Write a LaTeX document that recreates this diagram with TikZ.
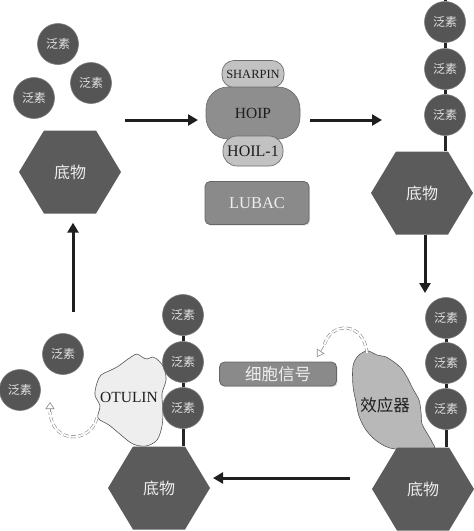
\documentclass[tikz,border=0pt]{standalone}
\usepackage{fontspec}
\setmainfont{Liberation Serif}
\newfontfamily\cjk{Noto Sans CJK SC}
\usetikzlibrary{arrows.meta,shapes.geometric,backgrounds,shadows}
\definecolor{ubfill}{HTML}{555555}
\definecolor{ubedge}{HTML}{7A7A7A}
\definecolor{ubtext}{HTML}{E4E4E4}
\definecolor{hexcol}{HTML}{5B5B5B}
\definecolor{hextext}{HTML}{EEEEEE}
\definecolor{chaincol}{HTML}{262626}
\definecolor{cloudlight}{HTML}{C2C2C2}
\definecolor{cloudedge}{HTML}{6E6E6E}
\definecolor{hoipcol}{HTML}{8E8E8E}
\definecolor{boxfill}{HTML}{8A8A8A}
\definecolor{boxedge}{HTML}{666666}
\definecolor{efffill}{HTML}{B8B8B8}
\definecolor{otufill}{HTML}{EEEEEE}
\definecolor{blobedge}{HTML}{555555}
\definecolor{dashcol}{HTML}{8C8C8C}
\definecolor{darktext}{HTML}{1E1E1E}
\tikzset{
  ub/.style={circle, fill=ubfill, draw=ubedge, line width=0.6pt, minimum size=41pt, inner sep=0pt,
    text=ubtext, font=\cjk\fontsize{12}{12}\selectfont},
  hexfill/.style={fill=hexcol},
  hexnode/.style={minimum width=102pt, minimum height=83pt, inner sep=0pt, text=hextext,
    font=\cjk\fontsize{16}{16}\selectfont},
  chainline/.style={draw=chaincol, line width=3pt},
  arr/.style={draw=black!88, line width=3pt, -{Triangle[length=10pt,width=11pt]}},
  cloudsmall/.style={rectangle, fill=cloudlight, draw=cloudedge,
    line width=0.7pt, inner sep=0pt, text=darktext},
  cloudbig/.style={rectangle, rounded corners=22pt, fill=hoipcol, draw=cloudedge,
    line width=0.7pt, inner sep=0pt, text=darktext},
  graybox/.style={rectangle, rounded corners=5pt, fill=boxfill, draw=boxedge, line width=0.8pt,
    inner sep=0pt, text=hextext, drop shadow={opacity=0.25, shadow xshift=1.2pt, shadow yshift=-1.2pt}},
  effblob/.style={fill=efffill, draw=blobedge, line width=0.6pt},
  otublob/.style={fill=otufill, draw=blobedge, line width=0.6pt},
  hollowdash/.style={draw=dashcol, line width=0.6pt, double=white, double distance=1.8pt,
    dash pattern=on 5pt off 2.5pt},
  hollowtip/.style={draw=dashcol, line width=0.6pt, -{Triangle[open, length=7pt, width=9pt, fill=white]}},
}
\newcommand\HexSub[3]{%
  \path[hexfill] (#2-51,#3) -- (#2-26,#3-41.5) -- (#2+26,#3-41.5) -- (#2+51,#3)
    -- (#2+26,#3+41.5) -- (#2-26,#3+41.5) -- cycle;
  \node[hexnode] (#1) at (#2,#3) {底物};}
\begin{document}
\begin{tikzpicture}[x=1pt,y=-1pt]
\useasboundingbox (0,0) rectangle (474,531);

% ---------- top left ----------
\node[ub] (u1) at (58,44) {泛素};
\node[ub] (u2) at (91,83) {泛素};
\node[ub] (u3) at (34,98) {泛素};
\HexSub{hTL}{70}{172}

\coordinate (a1s) at (125,120);
\coordinate (a1e) at (198,120);
\draw[arr] (a1s) -- (a1e);

% ---------- LUBAC ----------
\node[cloudsmall, rounded corners=12pt, minimum width=62pt, minimum height=27pt,
  font=\fontsize{12.5}{12.5}\selectfont] (sharpin) at (253,74) {SHARPIN};
\node[cloudbig, minimum width=94pt, minimum height=52pt,
  font=\fontsize{15.5}{15.5}\selectfont] (hoip) at (253,113) {HOIP};
\node[cloudsmall, rounded corners=14pt, minimum width=60pt, minimum height=30pt,
  font=\fontsize{16}{16}\selectfont] (hoil) at (253,151) {HOIL-1};
\node[graybox, minimum width=104pt, minimum height=43pt,
  font=\fontsize{16.5}{16.5}\selectfont] (lubac) at (257,203) {LUBAC};

\coordinate (a2s) at (310,120);
\coordinate (a2e) at (382,120);
\draw[arr] (a2s) -- (a2e);

% ---------- top right ----------
\coordinate (rtop) at (445,-5);
\node[ub] (r1) at (445,22) {泛素};
\node[ub] (r2) at (445,69) {泛素};
\node[ub] (r3) at (445,115) {泛素};
\HexSub{hTR}{422}{193}

\coordinate (a3e) at (425,293);
\draw[arr] ([xshift=3pt]hTR.south) -- (a3e);

% ---------- bottom right ----------
\draw[effblob] plot[smooth cycle, tension=0.55] coordinates {
  (353,366) (358,356) (366,351) (371,352) (377,355) (386,357) (394,362) (401,368)
  (407,377) (413,389) (419,400) (421,412) (422,424) (427,433) (432,442) (432,449)
  (395,449) (378,442) (366,430) (359,416) (356,402) (353,386) };
\node[text=darktext, font=\cjk\fontsize{16.5}{16.5}\selectfont] (eff) at (385,405) {效应器};
\node[ub] (b1) at (446,318) {泛素};
\node[ub] (b2) at (446,363) {泛素};
\node[ub] (b3) at (446,409) {泛素};
\HexSub{hBR}{423}{489}

\node[graybox, minimum width=117pt, minimum height=24pt,
  font=\cjk\fontsize{16.5}{16.5}\selectfont] (sig) at (278,374) {细胞信号};

\coordinate (d1s) at (367,353);
\coordinate (d1m) at (324,346);
\coordinate (d1e) at (317,357);
\draw[hollowdash] (d1s) .. controls (364,321) and (330,321) .. (d1m);
\draw[hollowtip] (d1m) -- (d1e);

\coordinate (a4s) at (350,478);
\coordinate (a4e) at (213,478);
\draw[arr] (a4s) -- (a4e);

% ---------- bottom left ----------
\draw[otublob] plot[smooth cycle, tension=0.55] coordinates {
  (97,383) (101,375) (109,371) (117,367) (124,362) (131,357) (137,354) (142,357)
  (147,359) (153,357) (159,361) (164,368) (166,380) (162,394) (163,410) (162,426)
  (157,440) (146,446) (133,444) (121,435) (109,425) (98,418) (100,406) (95,395) };
\node[text=darktext, font=\fontsize{15.5}{15.5}\selectfont] (otulin) at (129,397) {OTULIN};
\node[ub] (l1) at (183,315) {泛素};
\node[ub] (l2) at (183,362) {泛素};
\node[ub] (l3) at (183,408) {泛素};
\HexSub{hBL}{159}{488}

\node[ub] (f1) at (63,354) {泛素};
\node[ub] (f2) at (20,390) {泛素};

\coordinate (d2s) at (97,418);
\coordinate (d2m) at (50,412);
\coordinate (d2e) at (50,402);
\draw[hollowdash] (d2s) .. controls (90,444) and (52,444) .. (d2m);
\draw[hollowtip] (d2m) -- (d2e);

\coordinate (a5s) at (73,312);
\draw[arr] (a5s) -- ([xshift=3pt,yshift=-9pt]hTL.south);

% ---------- chain lines behind the ubiquitins ----------
\begin{pgfonlayer}{background}
  \draw[chainline] (rtop) -- (r1) -- (r2) -- (r3) -- (r3 |- hTR.north);
  \draw[chainline] (b1) -- (b2) -- (b3) -- (b3 |- hBR.north);
  \draw[chainline] (l1) -- (l2) -- (l3) -- (l3 |- hBL.north);
\end{pgfonlayer}
\end{tikzpicture}
\end{document}
